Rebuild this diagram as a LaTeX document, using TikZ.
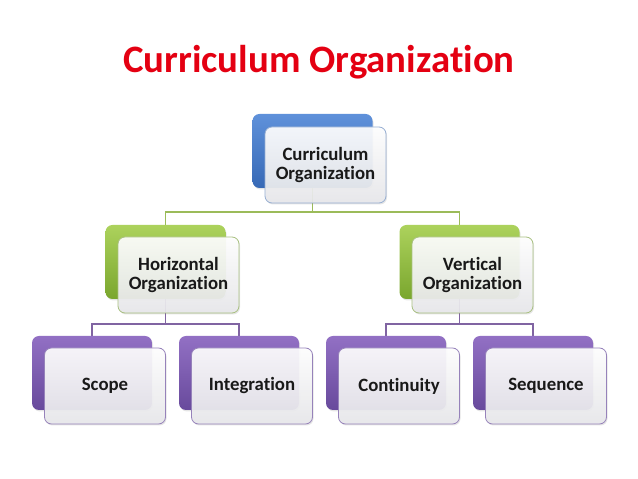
\documentclass[tikz,border=0pt]{standalone}
\usepackage{fontspec}
\setmainfont[Ligatures=NoCommon]{Carlito}
\usepackage{tikz}
\usetikzlibrary{positioning}
\usetikzlibrary{shadows}
\usetikzlibrary{backgrounds}
\definecolor{blueTop}{RGB}{95,145,218}
\definecolor{blueBot}{RGB}{55,105,182}
\definecolor{greenTop}{RGB}{172,210,92}
\definecolor{greenBot}{RGB}{122,166,46}
\definecolor{purpleTop}{RGB}{146,112,196}
\definecolor{purpleBot}{RGB}{104,74,156}
\definecolor{cardBot}{RGB}{232,232,235}
\definecolor{blueEdge}{RGB}{150,174,210}
\definecolor{greenEdge}{RGB}{168,192,128}
\definecolor{purpleEdge}{RGB}{150,130,186}
\definecolor{greenLine}{RGB}{155,187,89}
\definecolor{purpleLine}{RGB}{128,100,162}
\definecolor{titleRed}{RGB}{228,0,18}
\newcommand{\cardfont}{\bfseries\fontsize{18.8}{19.5}\selectfont}
\tikzstyle{solidBox} = [rectangle, rounded corners=7pt, minimum width=120pt, minimum height=74pt, drop shadow={opacity=0.2, shadow xshift=1pt, shadow yshift=-1.5pt}]
\tikzstyle{blueBox} = [solidBox, top color=blueTop, bottom color=blueBot]
\tikzstyle{greenBox} = [solidBox, top color=greenTop, bottom color=greenBot]
\tikzstyle{purpleBox} = [solidBox, top color=purpleTop, bottom color=purpleBot]
\tikzstyle{cardBox} = [rectangle, rounded corners=7pt, minimum width=121pt, minimum height=76pt, top color=white, bottom color=cardBot, fill opacity=0.92, text opacity=1, line width=0.8pt, align=center, text=black!90, font=\cardfont, drop shadow={opacity=0.2, shadow xshift=1pt, shadow yshift=-1.5pt}]
\tikzstyle{blueCard} = [cardBox, draw=blueEdge]
\tikzstyle{greenCard} = [cardBox, draw=greenEdge]
\tikzstyle{purpleCard} = [cardBox, draw=purpleEdge]
\tikzstyle{greenLink} = [line width=1.4pt, greenLine]
\tikzstyle{purpleLink} = [line width=1.4pt, purpleLine]
\tikzstyle{titleText} = [anchor=base, text=titleRed, font=\bfseries\fontsize{38.8}{40}\selectfont]

\begin{document}
\begin{tikzpicture}[x=1pt, y=1pt, node distance=147pt]
                    \useasboundingbox (0,0) rectangle (638,479);
                    \node (title) [titleText] at (319,406) {Curriculum Organization};
                    \node (scope) [purpleBox] at (92,106) {};
                    \node (integ) [purpleBox, right of = scope] {};
                    \node (cont) [purpleBox, right of = integ] {};
                    \node (seq) [purpleBox, right of = cont] {};
                    \node (horiz) [greenBox, above of = scope, xshift=73.5pt, yshift=-36pt] {};
                    \node (vert) [greenBox, above of = cont, xshift=73.5pt, yshift=-36pt] {};
                    \node (curr) [blueBox, above of = horiz, xshift=147pt, yshift=-36pt] {};
                    \node (currF) [blueCard, xshift=13pt, yshift=-14pt] at (curr) {Curriculum\\Organization};
                    \node (horizF) [greenCard, xshift=13pt, yshift=-13pt] at (horiz) {Horizontal\\Organization};
                    \node (vertF) [greenCard, xshift=13pt, yshift=-13pt] at (vert) {Vertical\\Organization};
                    \node (scopeF) [purpleCard, xshift=13pt, yshift=-13pt] at (scope) {Scope};
                    \node (integF) [purpleCard, xshift=13pt, yshift=-13pt] at (integ) {Integration};
                    \node (contF) [purpleCard, xshift=13pt, yshift=-13pt] at (cont) {Continuity};
                    \node (seqF) [purpleCard, xshift=13pt, yshift=-13pt] at (seq) {Sequence};
                    \begin{pgfonlayer}{background}
                    \fill [white] (0,0) rectangle (638,479);
                    \draw [greenLink] (curr.south) -- ++(0,-24) -| (horiz.north);
                    \draw [greenLink] (curr.south) -- ++(0,-24) -| (vert.north);
                    \draw [purpleLink] (horiz.south) -- ++(0,-25) -| (scope.north);
                    \draw [purpleLink] (horiz.south) -- ++(0,-25) -| (integ.north);
                    \draw [purpleLink] (vert.south) -- ++(0,-25) -| (cont.north);
                    \draw [purpleLink] (vert.south) -- ++(0,-25) -| (seq.north);
                    \end{pgfonlayer}
                \end{tikzpicture}
\end{document}
